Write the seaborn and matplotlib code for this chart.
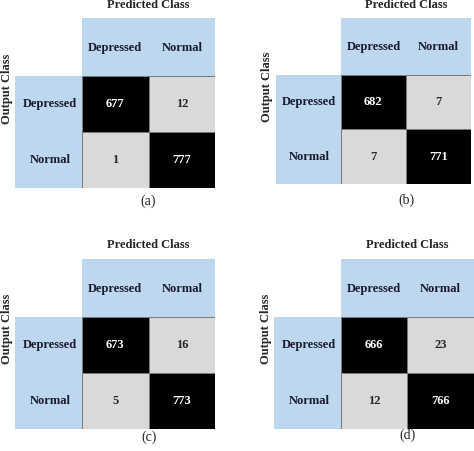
import matplotlib
matplotlib.use("Agg")
import matplotlib.pyplot as plt
from matplotlib.colors import ListedColormap
from matplotlib.patches import Rectangle
import seaborn as sns
import numpy as np

CLASSES = ["Depressed", "Normal"]
PANEL_LABELS = ["(a)", "(b)", "(c)", "(d)"]

# confusion matrices, rows = output class, cols = predicted class
CM_A = [[677, 12], [1, 777]]
CM_B = [[682, 7], [7, 771]]
CM_C = [[673, 16], [5, 773]]
CM_D = [[666, 23], [12, 766]]
MATRICES = [CM_A, CM_B, CM_C, CM_D]

BLUE = "#bdd7ee"
SERIF = "Liberation Serif"

sns.set_style("white")
plt.rcParams["font.family"] = [SERIF, "DejaVu Serif"]

fig = plt.figure(figsize=(4.74, 4.51), dpi=100)

# axes boxes for the 2x2 cell area of each panel (figure fractions)
positions = [
    [0.173, 0.583, 0.281, 0.248],
    [0.719, 0.592, 0.275, 0.242],
    [0.173, 0.049, 0.281, 0.248],
    [0.719, 0.049, 0.281, 0.248],
]
caption_y = [-0.115, -0.145, -0.075, -0.06]

cmap = ListedColormap(["#d9d9d9", "#000000"])

for cm, pos, lab, cy in zip(MATRICES, positions, PANEL_LABELS, caption_y):
    ax = fig.add_axes(pos)
    sns.heatmap(np.array(cm), ax=ax, cmap=cmap, vmin=0, vmax=800,
                annot=True, fmt="d", cbar=False,
                linewidths=0.6, linecolor="#7a7a7a",
                xticklabels=CLASSES, yticklabels=CLASSES,
                annot_kws=dict(fontsize=9, fontweight="bold", family=SERIF))

    # light blue header and row-label blocks
    ax.add_patch(Rectangle((0, 1), 1, 0.52, transform=ax.transAxes,
                           facecolor=BLUE, edgecolor="none", clip_on=False, zorder=0))
    ax.add_patch(Rectangle((-0.5, 0), 0.5, 1, transform=ax.transAxes,
                           facecolor=BLUE, edgecolor="none", clip_on=False, zorder=0))

    ax.xaxis.tick_top()
    ax.tick_params(axis="x", length=0, pad=20)
    ax.tick_params(axis="y", length=0, pad=23)
    for t in ax.get_xticklabels():
        t.set_fontweight("bold")
        t.set_fontsize(9)
        t.set_va("center")
        t.set_color("#1a1a2e")
    for t in ax.get_yticklabels():
        t.set_fontweight("bold")
        t.set_fontsize(9)
        t.set_rotation(0)
        t.set_ha("center")
        t.set_va("center")
        t.set_color("#1a1a2e")

    ax.text(0.5, 1.64, "Predicted Class", transform=ax.transAxes,
            ha="center", va="center", fontsize=9, fontweight="bold")
    ax.text(-0.565, 0.89, "Output Class", transform=ax.transAxes,
            ha="center", va="center", rotation=90, fontsize=9, fontweight="bold")
    ax.text(0.5, cy, lab, transform=ax.transAxes,
            ha="center", va="center", fontsize=10)

fig.savefig("out.png", dpi=100)
